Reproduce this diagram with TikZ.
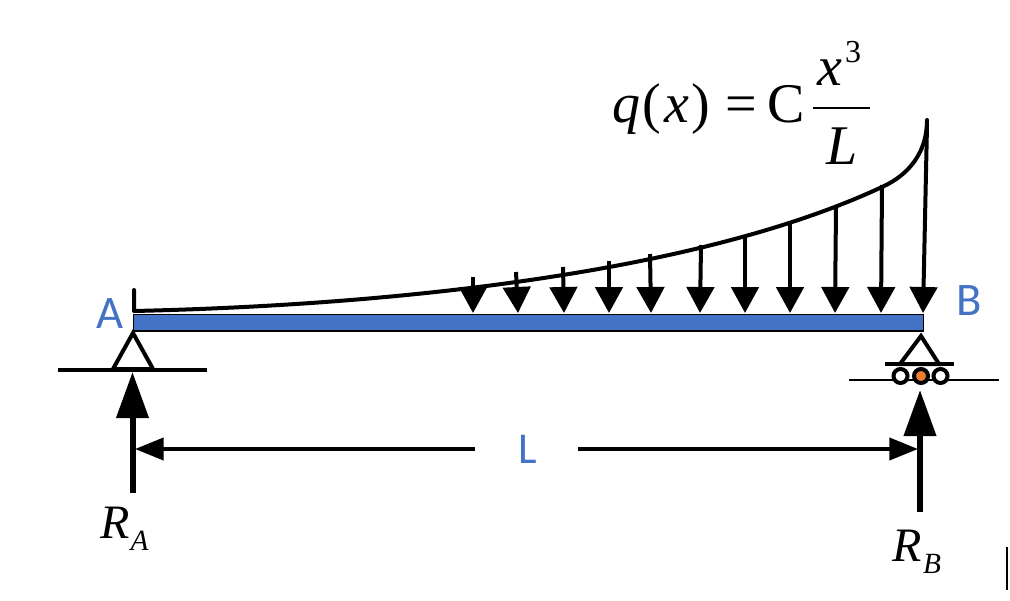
\documentclass[tikz,border=0pt]{standalone}
\usepackage{fontspec}
\setmainfont{Liberation Serif}
\newfontfamily\labelfont{Carlito}
\usetikzlibrary{arrows.meta}
\definecolor{beamblue}{HTML}{4472C4}
\definecolor{rollerorange}{HTML}{ED7D31}
\tikzset{
  px/.style={x=0.75pt,y=-0.75pt},
  loadarrow/.style={line width=3pt,-{Triangle[length=19.5pt,width=20.5pt]}},
  reaction/.style={line width=4.5pt,-{Triangle[length=34.5pt,width=23.5pt]}},
  dimarrow/.style={line width=3pt,-{Triangle[length=21.5pt,width=16.5pt]}},
  curveline/.style={line width=3pt,line cap=round,line join=round},
  supportline/.style={line width=3pt,line cap=butt},
  pin/.style={draw=black,line width=3pt,fill=white,line join=miter},
  roller/.style={circle,draw=black,line width=3pt,fill=white,inner sep=0pt,minimum size=10.5pt},
  beamname/.style={font=\labelfont\fontsize{35}{38}\selectfont,text=beamblue,inner sep=0pt},
  mathbig/.style={font=\fontsize{42}{46}\selectfont,inner sep=0pt,anchor=base},
  reactname/.style={font=\fontsize{36}{40}\selectfont\itshape,inner sep=0pt,anchor=base},
  reactsub/.style={font=\fontsize{22}{24}\selectfont\itshape,inner sep=0pt,anchor=base},
}
\begin{document}
\begin{tikzpicture}[px]
\useasboundingbox[fill=white] (0,0) rectangle (1010,600);

% beam
\node[draw=black,line width=1pt,fill=beamblue,minimum width=592.5pt,minimum height=12.5pt,inner sep=0pt,anchor=north west] (beam) at (133,313.5) {};

% load curve
\draw[curveline] (134,290) -- (134,311)
  .. controls (400,305) and (700,272) .. (882,187)
  .. controls (900,179) and (927,160) .. (927,120);

% distributed load arrows
\foreach \n/\tx/\ty/\bx in {a/473/277/473,b/516/272/518,c/563/267/564,d/609/261/609,e/650/254/651,f/701/245/700,g/745/235/745,h/790/222/790,i/836/207/835,j/882/185/881,k/927/125/923}{
  \coordinate (top\n) at (\tx,\ty);
  \coordinate (tip\n) at (\bx,313);
  \draw[loadarrow] (top\n) -- (tip\n);
}

% left support
\coordinate (apexA) at (133,333);
\coordinate (baseAl) at (113,369);
\coordinate (baseAr) at (153,369);
\draw[pin] (apexA) -- (baseAl) -- (baseAr) -- cycle;
\coordinate (groundAl) at (58,370);
\coordinate (groundAr) at (207,370);
\draw[supportline] (groundAl) -- (groundAr);

% right support
\coordinate (groundBl) at (849,380);
\coordinate (groundBr) at (999,380);
\draw[line width=0.9pt] (groundBl) -- (groundBr);
\coordinate (apexB) at (921,336);
\coordinate (baseBl) at (900,364);
\coordinate (baseBr) at (939,364);
\draw[pin] (apexB) -- (baseBl) -- (baseBr) -- cycle;
\coordinate (barBl) at (885,364);
\coordinate (barBr) at (954,364);
\draw[supportline] (barBl) -- (barBr);
\node[roller] (r1) at (900.5,376) {};
\node[roller,fill=rollerorange] (r2) at (921,376) {};
\node[roller] (r3) at (940.5,376) {};

% reactions
\coordinate (RAstart) at (132.5,493);
\coordinate (RAtip) at (132.5,372);
\draw[reaction] (RAstart) -- (RAtip);
\coordinate (RBstart) at (920,512);
\coordinate (RBtip) at (920,390);
\draw[reaction] (RBstart) -- (RBtip);

% dimension
\node[font=\labelfont\fontsize{33}{36}\selectfont,text=beamblue,inner sep=0pt] (Ldim) at (528,449) {L};
\coordinate (dimL) at (135,449);
\coordinate (dimR) at (918,449);
\coordinate (dimLs) at (475,449);
\coordinate (dimRs) at (578,449);
\draw[dimarrow] (dimLs) -- (dimL);
\draw[dimarrow] (dimRs) -- (dimR);

% labels
\node[beamname] (labA) at (110,314) {A};
\node[beamname] (labB) at (969,301) {B};
\node[reactname] (RA) at (115,538) {R};
\node[reactsub] (RAs) at (139.5,550) {A};
\node[reactname] (RB) at (907,561) {R};
\node[reactsub] (RBs) at (932,573) {B};

% formula
\node[mathbig,anchor=base west] (qx) at (612,122) {\textit{q}\kern2pt(\kern2pt\textit{x}\kern2pt)\kern1pt\ =\ \kern-3pt C};
\node[mathbig] (xnum) at (830,85) {\textit{x}};
\node[font=\fontsize{24}{26}\selectfont,inner sep=0pt,anchor=base] (xexp) at (853,62) {3};
\node[mathbig] (Lden) at (842,164) {\textit{L}};
\coordinate (fracL) at (813,108);
\coordinate (fracR) at (870,108);
\draw[line width=1.5pt] (fracL) -- (fracR);

% cursor mark
\coordinate (curT) at (1007,547);
\coordinate (curB) at (1007,590);
\draw[line width=1.7pt] (curT) -- (curB);
\end{tikzpicture}
\end{document}
